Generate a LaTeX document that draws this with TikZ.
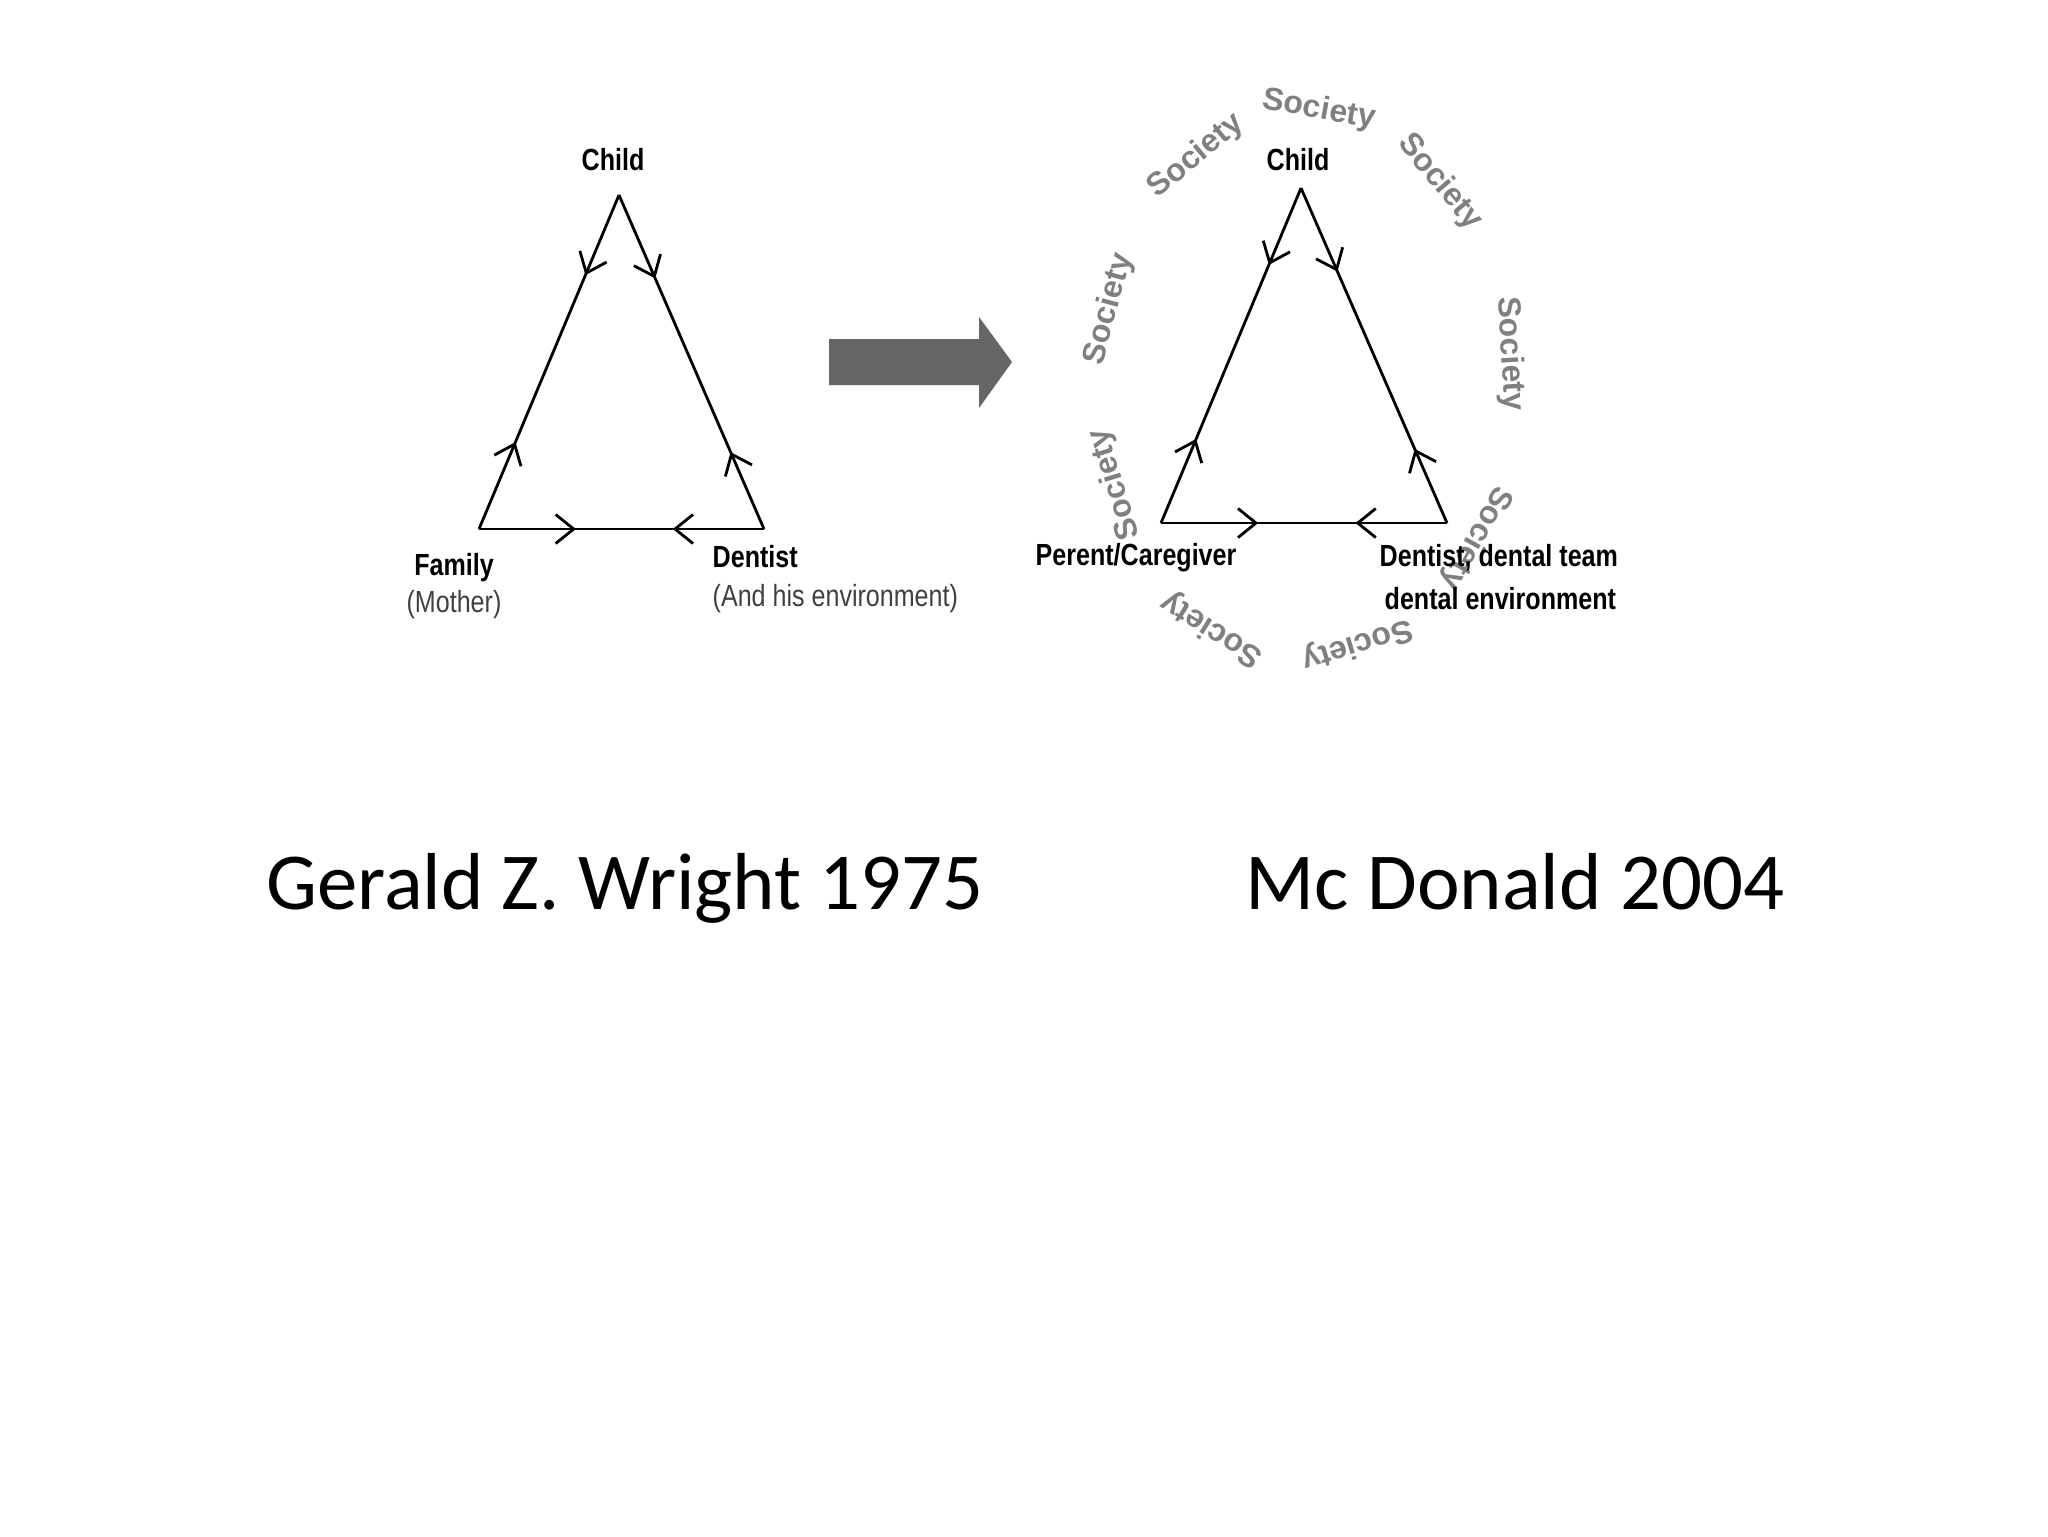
\documentclass[tikz,border=0pt]{standalone}
\usepackage{fontspec}
\setmainfont{Liberation Sans}
\newfontfamily\narrowfont[FakeStretch=0.82]{Liberation Sans}
\newfontfamily\captionfont{Carlito}
\usetikzlibrary{arrows.meta}
\usetikzlibrary{decorations.markings}

\tikzset{
  corner/.style={inner sep=0pt, text=black, font=\narrowfont\fontsize{8.7}{10}\bfseries},
  note/.style={inner sep=0pt, text=black!75, font=\narrowfont\fontsize{8.7}{10}\selectfont},
  society/.style={inner sep=0pt, text=black!50, font=\fontsize{9.1}{10}\bfseries},
  caption/.style={inner sep=0pt, anchor=base, font=\captionfont\fontsize{23}{26}\selectfont},
  barb/.tip={Straight Barb[length=1.8mm, width=2.9mm]},
  side/.style 2 args={line width=0.8pt, postaction={decorate}, decoration={markings,
      mark=at position #1 with {\arrow{barb}},
      mark=at position #2 with {\arrowreversed{barb}}}},
}

\begin{document}
\begin{tikzpicture}[x=0.1mm, y=-0.1mm]
\fill[white] (0,0) rectangle (2048,1536);
\useasboundingbox (0,0) rectangle (2048,1536);

\coordinate (lchild) at (619,195);
\coordinate (lfamily) at (479,529);
\coordinate (ldentist) at (764,529);
\draw[side={0.24}{0.74}] (lchild) -- (lfamily);
\draw[side={0.25}{0.77}] (lchild) -- (ldentist);
\draw[side={0.34}{0.68}] (lfamily) -- (ldentist);
\node[corner] (lchildtext) at (613,160) {Child};
\node[corner] (familytext) at (454,568) {Family};
\node[note] (mothertext) at (454,605) {(Mother)};
\node[corner, anchor=west] (ldentisttext) at (712,557) {Dentist};
\node[note, anchor=west] (envtext) at (712,599) {(And his environment)};

\fill[black!60] (829,339) -- (979,339) -- (979,317) -- (1012,362)
  -- (979,408) -- (979,385) -- (829,385) -- cycle;

\foreach \px/\py/\ang [count=\i] in {1319/110/-10, 1196/156/40, 1440/182/-50,
    1109/309/75, 1510/354/-87, 1115/484/107, 1476/538/-119, 1212/629/148,
    1357/644/-163}
  \node[society, rotate=\ang] (soc\i) at (\px,\py) {Society};

\coordinate (rchild) at (1301,188);
\coordinate (rparent) at (1161,523);
\coordinate (rdentist) at (1447,523);
\draw[side={0.23}{0.75}] (rchild) -- (rparent);
\draw[side={0.25}{0.78}] (rchild) -- (rdentist);
\draw[side={0.34}{0.68}] (rparent) -- (rdentist);
\node[corner] (rchildtext) at (1298,160) {Child};
\node[corner, anchor=west] (parenttext) at (1035,558) {Perent/Caregiver};
\node[corner, anchor=west] (rdentisttext) at (1379,558) {Dentist, dental team};
\node[corner, anchor=west] (dentalenvtext) at (1384,599) {dental environment};

\node[caption] (wright) at (625,909) {Gerald Z. Wright 1975};
\node[caption] (mcdonald) at (1515,909) {Mc Donald 2004};
\end{tikzpicture}
\end{document}
